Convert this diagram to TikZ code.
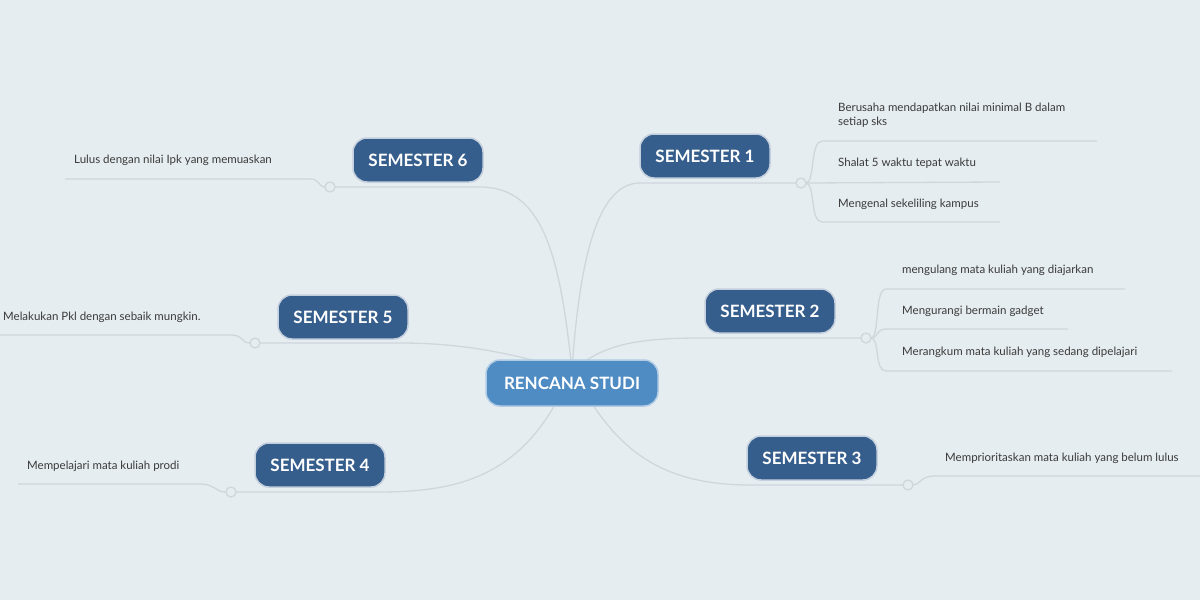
\documentclass[tikz,border=0pt]{standalone}
\usepackage{fontspec}
\setmainfont{Lato}
\begin{document}
\begin{tikzpicture}[x=1pt,y=-1pt,
  sem/.style={fill=semblue,draw=white!70!semblue,line width=1.5pt,rounded corners=14pt,minimum width=130pt,minimum height=44pt,text=white,font=\fontsize{17}{20}\selectfont\bfseries},
  ctr/.style={fill=ctrblue,draw=white!55!ctrblue,line width=1.5pt,rounded corners=14pt,minimum width=172pt,minimum height=46pt,text=white,font=\fontsize{17}{20}\selectfont\bfseries},
  leaf/.style={anchor=west,text=leaftext,font=\fontsize{11.5}{14}\selectfont,align=left,inner sep=0pt},
  con/.style={draw=linegray,line width=1.3pt},
  dot/.style={circle,draw=linegray,fill=bgc,line width=1.3pt,minimum size=10pt,inner sep=0pt}]
\definecolor{bgc}{HTML}{E6EDF1}
\definecolor{semblue}{HTML}{365E8C}
\definecolor{ctrblue}{HTML}{4F8CC4}
\definecolor{linegray}{HTML}{D0D7DC}
\definecolor{leaftext}{HTML}{3A3A3A}
\fill[bgc] (0,0) rectangle (1200,600);
\useasboundingbox (0,0) rectangle (1200,600);
% connectors first
\coordinate (c) at (572,370);
% S1
\draw[con] (c) .. controls (580,250) and (600,183) .. (640,183) -- (796,183);
\draw[con] (806,183) .. controls (815,183) and (810,141) .. (822,141) -- (1097,141);
\draw[con] (806,183) -- (1000,182);
\draw[con] (806,183) .. controls (815,183) and (810,222) .. (822,222) -- (1000,222);
% S2
\draw[con] (c) .. controls (600,350) and (620,338) .. (700,338) -- (861,338);
\draw[con] (871,338) .. controls (880,338) and (874,289) .. (886,289) -- (1125,289);
\draw[con] (871,338) .. controls (878,338) and (876,329) .. (886,329) -- (1068,329);
\draw[con] (871,338) .. controls (880,338) and (874,371) .. (886,371) -- (1172,371);
% S3
\draw[con] (c) .. controls (610,440) and (650,485) .. (750,485) -- (903,485);
\draw[con] (913,485) .. controls (920,485) and (920,476) .. (935,476) -- (1200,476);
% S4
\draw[con] (c) .. controls (530,470) and (470,492) .. (380,492) -- (236,492);
\draw[con] (226,492) .. controls (215,492) and (215,484) .. (200,484) -- (18,484);
% S5
\draw[con] (c) .. controls (530,360) and (480,343) .. (400,343) -- (260,343);
\draw[con] (250,343) .. controls (240,343) and (245,335) .. (230,335) -- (0,335);
% S6
\draw[con] (c) .. controls (560,260) and (545,187) .. (480,187) -- (335,187);
\draw[con] (325,187) .. controls (318,187) and (320,179) .. (310,179) -- (65,179);
% dots
\node[dot] (d1) at (801,183) {};
\node[dot] (d2) at (866,338) {};
\node[dot] (d3) at (908,485) {};
\node[dot] (d4) at (231,492) {};
\node[dot] (d5) at (255,343) {};
\node[dot] (d6) at (330,187) {};
% nodes
\node[ctr] (root) at (572,383) {RENCANA STUDI};
\node[sem] (s1) at (705,156) {SEMESTER 1};
\node[sem] (s2) at (770,311) {SEMESTER 2};
\node[sem] (s3) at (812,458) {SEMESTER 3};
\node[sem] (s4) at (320,465) {SEMESTER 4};
\node[sem] (s5) at (343,317) {SEMESTER 5};
\node[sem] (s6) at (418,160) {SEMESTER 6};
% leaves
\node[leaf] (l11) at (838,115) {Berusaha mendapatkan nilai minimal B dalam\\setiap sks};
\node[leaf] (l12) at (838,163) {Shalat 5 waktu tepat waktu};
\node[leaf] (l13) at (838,204) {Mengenal sekeliling kampus};
\node[leaf] (l21) at (902,270) {mengulang mata kuliah yang diajarkan};
\node[leaf] (l22) at (902,311) {Mengurangi bermain gadget};
\node[leaf] (l23) at (902,352) {Merangkum mata kuliah yang sedang dipelajari};
\node[leaf] (l31) at (945,458) {Memprioritaskan mata kuliah yang belum lulus};
\node[leaf] (l41) at (27,466) {Mempelajari mata kuliah prodi};
\node[leaf] (l51) at (3,317) {Melakukan Pkl dengan sebaik mungkin.};
\node[leaf] (l61) at (74,160) {Lulus dengan nilai Ipk yang memuaskan};
\end{tikzpicture}
\end{document}
